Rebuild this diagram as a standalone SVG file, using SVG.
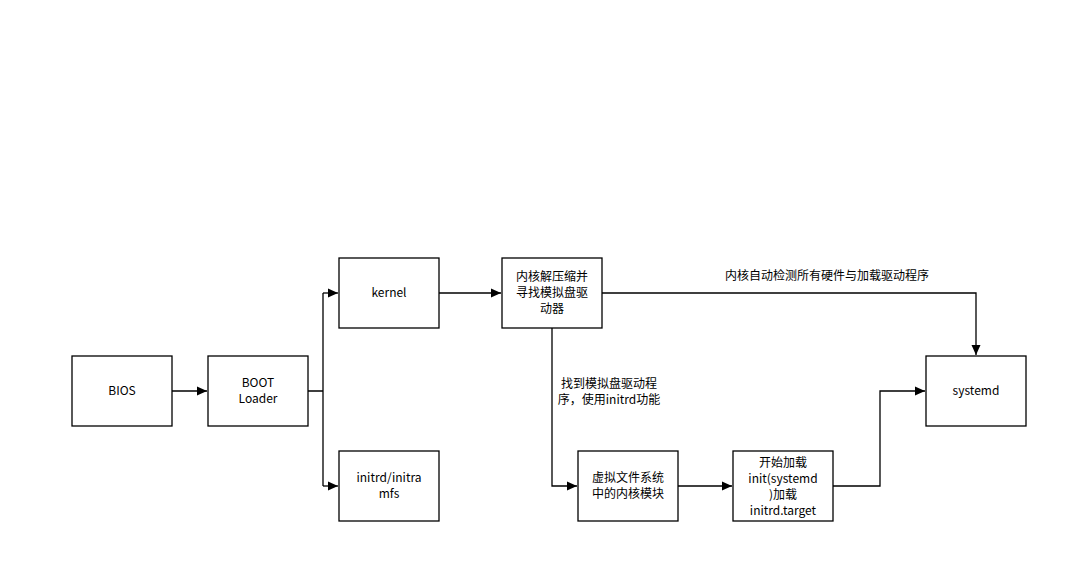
<svg xmlns="http://www.w3.org/2000/svg" width="1088" height="583" viewBox="0 0 1088 583">
<style>
.n{fill:#fff;stroke:#000;stroke-width:1.3}
.t{font-family:"Noto Sans CJK SC","Liberation Sans",sans-serif;font-size:12px;fill:#000;text-anchor:middle}
.c{fill:none;stroke:#000;stroke-width:1.3;marker-end:url(#a)}
</style>
<defs><marker id="a" viewBox="0 0 10 10" refX="10" refY="5" markerWidth="10" markerHeight="10" markerUnits="userSpaceOnUse" orient="auto"><path d="M0,0.5L10,5L0,9.5z" fill="#000"/></marker></defs>
<rect width="1088" height="583" fill="#fff"/>
<g id="connectors">
<path class="c" d="M172,391H207"/>
<path d="M308,391H323M323,391V293M323,391V486" fill="none" stroke="#000" stroke-width="1.3"/>
<path class="c" d="M323,293H338"/>
<path class="c" d="M323,486H338"/>
<path class="c" d="M439,293H501"/>
<path class="c" d="M602,293H976V355"/>
<path class="c" d="M552,328V486H577"/>
<path class="c" d="M678,486H732"/>
<path class="c" d="M833,486H880V391H925"/>
<text class="t" x="827" y="280">内核自动检测所有硬件与加载驱动程序</text>
<text class="t" x="609" y="388">找到模拟盘驱动程</text>
<text class="t" x="609" y="404">序，使用initrd功能</text>
</g>
<g id="bios"><rect class="n" x="72" y="356" width="100" height="70"/><text class="t" x="122" y="395">BIOS</text></g>
<g id="boot"><rect class="n" x="208" y="356" width="100" height="70"/><text class="t" x="258" y="387">BOOT</text><text class="t" x="258" y="403">Loader</text></g>
<g id="kernel"><rect class="n" x="339" y="258" width="100" height="70"/><text class="t" x="389" y="297">kernel</text></g>
<g id="initrd"><rect class="n" x="339" y="451" width="100" height="70"/><text class="t" x="389" y="482">initrd/initra</text><text class="t" x="389" y="498">mfs</text></g>
<g id="decompress"><rect class="n" x="502" y="258" width="100" height="70"/><text class="t" x="552" y="281">内核解压缩并</text><text class="t" x="552" y="297">寻找模拟盘驱</text><text class="t" x="552" y="313">动器</text></g>
<g id="vfs"><rect class="n" x="578" y="451" width="100" height="70"/><text class="t" x="628" y="482">虚拟文件系统</text><text class="t" x="628" y="498">中的内核模块</text></g>
<g id="init"><rect class="n" x="733" y="451" width="100" height="70"/><text class="t" x="783" y="467">开始加载</text><text class="t" x="783" y="483">init(systemd</text><text class="t" x="783" y="499">)加载</text><text class="t" x="783" y="515">initrd.target</text></g>
<g id="systemd"><rect class="n" x="926" y="356" width="100" height="70"/><text class="t" x="976" y="395">systemd</text></g>
</svg>
